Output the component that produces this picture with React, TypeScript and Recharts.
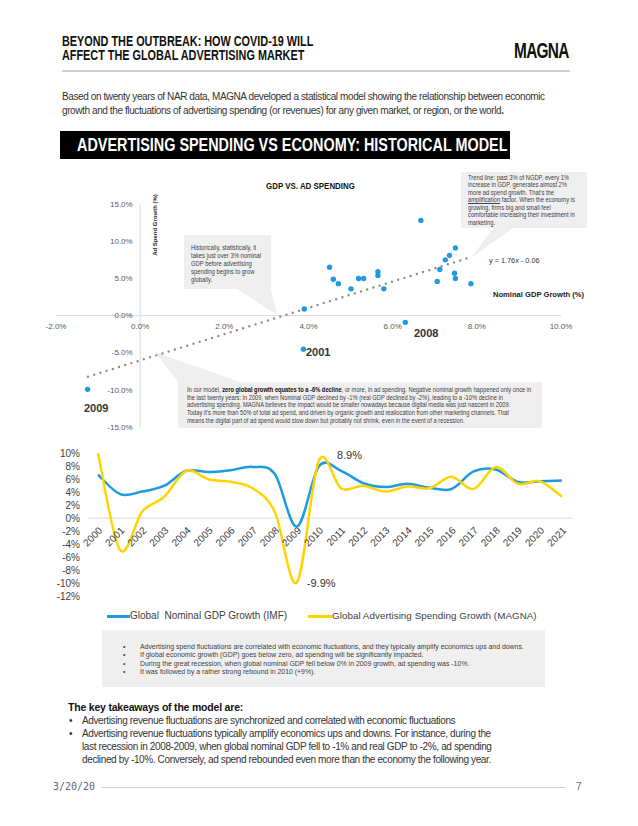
import React from "react";
import {
  ScatterChart,
  Scatter,
  LineChart,
  Line,
  XAxis,
  YAxis,
  ReferenceLine,
  ReferenceDot,
} from "recharts";

const FONT = '"Liberation Sans", Arial, sans-serif';
const BLUE = "#1E9AE0";
const YELLOW = "#FFD400";

// scatter: nominal GDP growth vs ad spend growth, one point per year 2000-2021
const gdpGrowth = [-1.25, 3.9, 3.88, 4.5, 4.59, 4.71, 5.01, 5.19, 5.31, 5.65, 5.65, 5.79, 6.3, 6.67, 7.06, 7.12, 7.25, 7.35, 7.49, 7.47, 7.49, 7.86];
const adGrowth = [-9.9, 0.9, -4.5, 6.5, 4.9, 4.3, 3.6, 5.0, 5.0, 5.9, 5.4, 3.6, -0.9, 12.8, 4.6, 6.2, 7.5, 8.1, 9.1, 5.7, 5.0, 4.3];
const trendStart = { x: -1.24, y: -8.2 };
const trendEnd = { x: 7.88, y: 7.9 };
const scatterXTicks = [-2, 0, 2, 4, 6, 8, 10];
const scatterYTicks = [15, 10, 5, 0, -5, -10, -15];

// line chart: yearly growth rates
const years = ["2000", "2001", "2002", "2003", "2004", "2005", "2006", "2007", "2008", "2009", "2010", "2011", "2012", "2013", "2014", "2015", "2016", "2017", "2018", "2019", "2020", "2021"];
const nominalGdp = [6.7, 3.7, 4.1, 5.0, 7.3, 7.1, 7.4, 7.9, 6.8, -1.3, 8.0, 7.3, 5.4, 4.8, 5.3, 4.7, 4.5, 7.2, 7.5, 5.6, 5.7, 5.8];
const adSpend = [10.0, -4.9, 1.0, 3.3, 7.3, 6.0, 5.6, 4.6, 1.0, -9.9, 8.9, 4.6, 5.0, 4.1, 4.9, 4.6, 6.4, 4.5, 7.9, 5.3, 5.7, 3.3];
const lineYTicks = [10, 8, 6, 4, 2, 0, -2, -4, -6, -8, -10, -12];

const pct1 = (v: number) => `${v.toFixed(1)}%`;

const scatterData = gdpGrowth.map((x, i) => ({ x, y: adGrowth[i] }));
const xTickMarks = scatterXTicks.map((t) => ({ x: t, y: 0, text: pct1(t) }));
const yTickMarks = scatterYTicks.map((t) => ({ x: 0, y: t, text: pct1(t) }));
const lineData = years.map((year, i) => ({ year, gdp: nominalGdp[i], ad: adSpend[i] }));

// excel-like smoothed line (catmull-rom through every point)
const smoothCurve = (ctx: any) => {
  let pts: number[][] = [];
  return {
    areaStart() {},
    areaEnd() {},
    lineStart() {
      pts = [];
    },
    point(x: number, y: number) {
      pts.push([x, y]);
    },
    lineEnd() {
      if (!pts.length) return;
      ctx.moveTo(pts[0][0], pts[0][1]);
      for (let i = 0; i < pts.length - 1; i++) {
        const p0 = pts[i - 1] || pts[i];
        const p1 = pts[i];
        const p2 = pts[i + 1];
        const p3 = pts[i + 2] || p2;
        ctx.bezierCurveTo(
          p1[0] + (p2[0] - p0[0]) / 6,
          p1[1] + (p2[1] - p0[1]) / 6,
          p2[0] - (p3[0] - p1[0]) / 6,
          p2[1] - (p3[1] - p1[1]) / 6,
          p2[0],
          p2[1]
        );
      }
    },
  };
};

// tick labels sit on the zero lines, so they are drawn as text "points"
const xTickShape = (p: any) => (
  <g transform={`translate(${p.cx},${p.cy})`}>
    <text x={0} y={11} style={{ textAnchor: "middle" }} dominantBaseline="central" fontSize={8} fill="#595959" fontFamily={FONT}>
      {p.payload.text}
    </text>
  </g>
);

const yTickShape = (p: any) => (
  <g transform={`translate(${p.cx},${p.cy})`}>
    <text x={-7.5} y={0} style={{ textAnchor: "end" }} dominantBaseline="central" fontSize={8} fill="#595959" fontFamily={FONT}>
      {p.payload.text}
    </text>
  </g>
);

const YearText = (p: any) => {
  const vb = p.viewBox || {};
  const x = vb.x + 5;
  const y = vb.y + 13;
  return (
    <text x={x} y={y} transform={`rotate(-45 ${x} ${y})`} textAnchor="end" fontSize={10} fill="#404040" fontFamily={FONT}>
      {p.value}
    </text>
  );
};

const adLabel = (p: any) => {
  const vb = p.viewBox || p;
  if (p.index === 10)
    return (
      <text x={vb.x + 18} y={vb.y - 5.5} dominantBaseline="central" fontSize={11} fill="#333" fontFamily={FONT}>
        {`${p.value}%`}
      </text>
    );
  if (p.index === 9)
    return (
      <text x={vb.x + 10} y={vb.y + 0.6} dominantBaseline="central" fontSize={11} fill="#333" fontFamily={FONT}>
        {`${p.value}%`}
      </text>
    );
  return null;
};

function GdpScatter() {
  return (
    <ScatterChart width={638} height={280} margin={{ top: 44, right: 77, bottom: 12.7, left: 56 }}>
      <XAxis type="number" dataKey="x" domain={[-2, 10]} hide />
      <YAxis type="number" dataKey="y" domain={[-15, 15]} hide />
      <ReferenceLine y={0} stroke="#d9d9d9" strokeWidth={1} />
      <ReferenceLine x={0} stroke="#d9d9d9" strokeWidth={1} />
      <Scatter data={xTickMarks} isAnimationActive={false} shape={xTickShape} />
      <Scatter data={yTickMarks} isAnimationActive={false} shape={yTickShape} />
      <ReferenceLine
        segment={[trendStart, trendEnd]}
        stroke="#8c8c8c"
        strokeWidth={2.4}
        strokeDasharray="0 6.5"
        strokeLinecap="round"
        ifOverflow="visible"
      />
      <Scatter
        data={scatterData}
        isAnimationActive={false}
        shape={(p: any) => <circle cx={p.cx} cy={p.cy} r={2.7} fill={BLUE} />}
      />
    </ScatterChart>
  );
}

function GrowthLines() {
  return (
    <LineChart width={638} height={170} data={lineData} margin={{ top: 13.3, right: 66, bottom: 14, left: 0 }}>
      <XAxis dataKey="year" hide padding={{ left: 10, right: 10 }} />
      <YAxis
        width={88}
        domain={[-12, 10]}
        ticks={lineYTicks}
        interval={0}
        axisLine={false}
        tickLine={false}
        tickFormatter={(v) => `${v}%`}
        tick={{ fontSize: 10, fill: "#404040", fontFamily: FONT }}
      />
      <ReferenceLine y={0} stroke="#d9d9d9" strokeWidth={1} />
      {years.map((yr) => (
        <ReferenceDot key={yr} x={yr} y={0} r={0} fill="none" stroke="none" ifOverflow="visible"
          label={{ value: yr, content: YearText }} />
      ))}
      <Line dataKey="gdp" type={smoothCurve as any} stroke={BLUE} strokeWidth={2.5} dot={false} activeDot={false} isAnimationActive={false} />
      <Line dataKey="ad" type={smoothCurve as any} stroke={YELLOW} strokeWidth={2.5} dot={false} activeDot={false} isAnimationActive={false} label={adLabel} />
    </LineChart>
  );
}

// single line of text, vertically centred on y, optionally squeezed horizontally
const Txt = ({ x, y, size, bold, color, sx = 1, spacing = 0, children, style }: any) => (
  <div
    style={{
      position: "absolute",
      left: x,
      top: y - size * 0.6,
      fontSize: size,
      lineHeight: `${size * 1.2}px`,
      fontWeight: bold ? 700 : 400,
      color: color || "#262626",
      whiteSpace: "nowrap",
      letterSpacing: spacing,
      transform: sx !== 1 ? `scaleX(${sx})` : undefined,
      transformOrigin: "left center",
      ...style,
    }}
  >
    {children}
  </div>
);

const Lines = ({ x, y, size, gap, lines, color, bold, sx = 1, spacing = 0 }: any) => (
  <div
    style={{
      position: "absolute",
      left: x,
      top: y - gap / 2,
      fontSize: size,
      lineHeight: `${gap}px`,
      fontWeight: bold ? 700 : 400,
      color: color || "#404040",
      whiteSpace: "nowrap",
      letterSpacing: spacing,
      transform: sx !== 1 ? `scaleX(${sx})` : undefined,
      transformOrigin: "left top",
    }}
  >
    {lines.map((l: any, i: number) => (
      <div key={i}>{l}</div>
    ))}
  </div>
);

function CalloutShapes() {
  return (
    <svg width={638} height={826} style={{ position: "absolute", left: 0, top: 0 }}>
      <path d="M184,235 H271 V289 L277,315 L237,289 H184 Z" fill="#EFEFEF" />
      <path d="M461,172 H587 V228 H513 L471,258 L493,228 H461 Z" fill="#EFEFEF" />
      <path d="M178,382 L155,352 L240,382 H542 V428 H178 Z" fill="#EFEFEF" />
    </svg>
  );
}

export default function App() {
  return (
    <div style={{ position: "absolute", left: 0, top: 0, width: 638, height: 826, background: "#fff", fontFamily: FONT, overflow: "hidden" }}>
      {/* header */}
      <Lines x={62} y={41} size={14} gap={14.5} bold sx={0.775} color="#111"
        lines={["BEYOND THE OUTBREAK: HOW COVID-19 WILL", "AFFECT THE GLOBAL ADVERTISING MARKET"]} />
      <Txt x={514} y={51} size={22} bold sx={0.7} color="#111" spacing={-1} style={{ fontWeight: 900 }}>MAGNA</Txt>
      <div style={{ position: "absolute", left: 62, top: 70, width: 508, height: 1.5, background: "#cfcfcf" }} />
      <Lines x={62} y={97} size={10} gap={13.5} color="#333" spacing={-0.4}
        lines={[
          "Based on twenty years of NAR data, MAGNA developed a statistical model showing the relationship between economic",
          <>growth and the fluctuations of advertising spending (or revenues) for any given market, or region, or the world<b>.</b></>,
        ]} />
      <div style={{ position: "absolute", left: 60, top: 131, width: 450, height: 28, background: "#000" }}>
        <div style={{ position: "absolute", left: 17, top: 0, lineHeight: "28px", fontSize: 18, fontWeight: 700, color: "#fff", whiteSpace: "nowrap", transform: "scaleX(0.8)", transformOrigin: "left center" }}>
          ADVERTISING SPENDING VS ECONOMY: HISTORICAL MODEL
        </div>
      </div>

      {/* scatter model */}
      <CalloutShapes />
      <div style={{ position: "absolute", left: 0, top: 160 }}>
        <GdpScatter />
      </div>
      <Txt x={266} y={186} size={9} bold sx={0.88} color="#111">GDP VS. AD SPENDING</Txt>
      <div style={{ position: "absolute", left: 155, top: 224.5, transform: "translate(-50%,-50%) rotate(-90deg)", fontSize: 6, fontWeight: 700, whiteSpace: "nowrap", color: "#222" }}>
        Ad Spend Growth (%)
      </div>
      <Txt x={489} y={261} size={7.3} color="#333">y = 1.76x - 0.06</Txt>
      <Txt x={493} y={295} size={7.6} bold color="#222">Nominal GDP Growth (%)</Txt>
      <Txt x={306} y={353} size={11} bold color="#333">2001</Txt>
      <Txt x={414} y={334} size={11} bold color="#333">2008</Txt>
      <Txt x={84} y={409} size={11} bold color="#333">2009</Txt>
      <Lines x={191} y={248} size={6.9} gap={8} sx={0.85}
        lines={["Historically, statistically, it", "takes just over 3% nominal", "GDP before advertising", "spending begins to grow", "globally."]} />
      <Lines x={468} y={177.7} size={6.9} gap={7.5} sx={0.84}
        lines={[
          "Trend line: past 3% of NGDP, every 1%",
          "increase in GDP, generates almost 2%",
          "more ad spend growth. That\u2019s the",
          <><u>amplification</u> factor. When the economy is</>,
          "growing, firms big and small feel",
          "comfortable increasing their investment in",
          "marketing.",
        ]} />
      <Lines x={187} y={390} size={6.7} gap={7.6} sx={0.86}
        lines={[
          <>In our model, <b style={{ color: "#111" }}>zero global growth equates to a -6% decline</b>, or more, in ad spending. Negative nominal growth happened only once in</>,
          "the last twenty years: in 2009, when Nominal GDP declined by -1% (real GDP declined by -2%), leading to a -10% decline in",
          "advertising spending. MAGNA believes the impact would be smaller nowadays because digital media was just nascent in 2009.",
          "Today it\u2019s more than 50% of total ad spend, and driven by organic growth and reallocation from other marketing channels. That",
          "means the digital part of ad spend would slow down but probably not shrink, even in the event of a recession.",
        ]} />

      {/* yearly growth lines */}
      <div style={{ position: "absolute", left: 0, top: 440 }}>
        <GrowthLines />
      </div>
      <div style={{ position: "absolute", left: 107, top: 614.5, width: 23, height: 3, background: BLUE }} />
      <Txt x={130} y={616} size={10} color="#404040">Global&nbsp; Nominal GDP Growth (IMF)</Txt>
      <div style={{ position: "absolute", left: 308, top: 614.5, width: 24, height: 3, background: YELLOW }} />
      <Txt x={332} y={616} size={9.8} spacing={0.05} color="#404040">Global Advertising Spending Growth (MAGNA)</Txt>

      {/* summary box */}
      <div style={{ position: "absolute", left: 102, top: 630, width: 443, height: 57, background: "#EFEFEF" }} />
      <Lines x={123} y={647} size={6.9} gap={8.4} lines={["\u2022", "\u2022", "\u2022", "\u2022"]} />
      <Lines x={140} y={647} size={6.9} gap={8.4}
        lines={[
          "Advertising spend fluctuations are correlated with economic fluctuations, and they typically amplify economics ups and downs.",
          "If global economic growth (GDP) goes below zero, ad spending will be significantly impacted.",
          "During the great recession, when global nominal GDP fell below 0% in 2009 growth, ad spending was -10%.",
          "It was followed by a rather strong rebound in 2010 (+9%).",
        ]} />

      {/* takeaways */}
      <Txt x={68} y={707} size={10.5} bold color="#111" spacing={-0.2}>The key takeaways of the model are:</Txt>
      <Lines x={69} y={720} size={10} gap={13} color="#333" lines={["\u2022", "\u2022"]} />
      <Lines x={82} y={720} size={10} gap={13} color="#333" spacing={-0.37}
        lines={[
          "Advertising revenue fluctuations are synchronized and correlated with economic fluctuations",
          "Advertising revenue fluctuations typically amplify economics ups and downs. For instance, during the",
          "last recession in 2008-2009, when global nominal GDP fell to -1% and real GDP to -2%, ad spending",
          "declined by -10%. Conversely, ad spend rebounded even more than the economy the following year.",
        ]} />

      {/* footer */}
      <Txt x={53} y={787} size={10} color="#666" style={{ fontFamily: '"DejaVu Sans Mono", monospace' }}>3/20/20</Txt>
      <div style={{ position: "absolute", left: 102, top: 786.5, width: 464, height: 1, background: "#cfcfcf" }} />
      <Txt x={576} y={787} size={10} color="#666">7</Txt>
    </div>
  );
}
